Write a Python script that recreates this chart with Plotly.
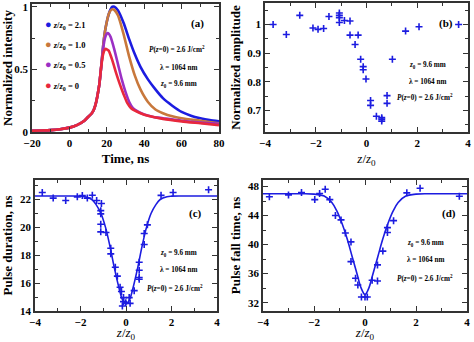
import plotly.graph_objects as go

W, H = 474, 342
FONT = "Liberation Serif"
BLUE = "#1c1ce0"

# ---------- panel (a) data: pulse shapes ----------
t_rise = [-20, -15, -10, -5, 0, 4, 8, 10, 12, 13, 14, 15, 16, 17]
i_rise = [0.010, 0.012, 0.015, 0.022, 0.035, 0.055, 0.09, 0.12, 0.15, 0.175, 0.22, 0.29, 0.38, 0.52]

t_21 = [18, 19, 20, 21, 22, 23, 24, 26, 29, 32, 35, 38, 42, 46, 50, 55, 60, 65, 70, 75, 80]
i_21 = [0.68, 0.80, 0.88, 0.94, 0.98, 1.0, 1.0, 0.97, 0.87, 0.74, 0.62, 0.52, 0.42, 0.34, 0.27, 0.21, 0.16, 0.13, 0.11, 0.095, 0.085]

t_10 = [18, 19, 20, 21, 22, 23, 24, 26, 29, 32, 35, 38, 42, 46, 50, 55, 60, 70, 80]
i_10 = [0.68, 0.80, 0.88, 0.94, 0.97, 0.98, 0.975, 0.93, 0.78, 0.60, 0.45, 0.34, 0.24, 0.18, 0.15, 0.125, 0.11, 0.09, 0.07]

t_05 = [18, 19, 20, 20.5, 21, 22, 24, 26, 28, 30, 32, 34, 37, 40, 45, 50, 60, 70, 80]
i_05 = [0.66, 0.75, 0.785, 0.79, 0.785, 0.76, 0.66, 0.54, 0.42, 0.32, 0.24, 0.19, 0.16, 0.14, 0.12, 0.11, 0.09, 0.075, 0.065]

t_00 = [18, 19, 19.5, 20, 21, 23, 25, 27, 29, 31, 33, 35, 38, 42, 50, 60, 70, 80]
i_00 = [0.62, 0.66, 0.665, 0.66, 0.65, 0.57, 0.47, 0.38, 0.30, 0.23, 0.19, 0.17, 0.15, 0.13, 0.105, 0.085, 0.07, 0.055]

legend_labels = ["2.1", "1.0", "0.5", "0"]
legend_colors = ["#1c1ce0", "#c8783c", "#9b30c4", "#e8283c"]

# ---------- panel (b) data ----------
zb = [-3.68, -3.16, -2.63, -2.11, -1.91, -1.69, -1.48, -1.07, -1.07, -1.07, -1.07, -0.87, -0.65, -0.65,
      -0.45, -0.33, -0.23, -0.13, -0.13, -0.02, 0.16, 0.16, 0.39, 0.6, 0.6, 0.6, 0.81, 0.81, 1.02, 1.54, 2.07, 3.63]
ab = [1.0, 0.965, 1.032, 0.988, 0.983, 0.986, 1.028, 1.04, 1.032, 1.024, 1.007, 1.014, 1.012, 0.963,
      0.93, 0.963, 0.879, 0.853, 0.842, 0.81, 0.735, 0.718, 0.68, 0.675, 0.67, 0.663, 0.752, 0.725, 0.879, 0.977, 0.992, 1.0]

# ---------- panel (c) data ----------
zc = [-3.68, -3.2, -2.65, -2.14, -1.92, -1.7, -1.48, -1.29, -1.08, -1.11, -1.11, -1.11, -1.11, -0.88,
      -0.67, -0.67, -0.47, -0.38, -0.26, -0.2, -0.11, -0.11, -0.16, -0.01, 0.18, 0.14, 0.36,
      0.58, 0.58, 0.58, 0.58, 0.8, 0.8, 0.94, 1.54, 2.07, 3.63]
dc = [22.5, 22.1, 21.93, 22.19, 22.29, 22.1, 22.31, 21.93, 21.71, 21.2, 20.97, 20.22, 19.68, 19.63,
      18.5, 18.1, 17.14, 16.5, 15.7, 15.4, 14.96, 14.67, 14.36, 14.6, 14.55, 14.96, 15.46,
      17.5, 16.92, 16.4, 16.28, 18.77, 19.56, 20.18, 22.3, 22.5, 22.7]
zc_fit = [-4, -2.5, -2.0, -1.8, -1.5, -1.3, -1.1, -0.9, -0.7, -0.5, -0.3, -0.15, 0,
          0.15, 0.3, 0.5, 0.7, 0.9, 1.1, 1.3, 1.5, 1.8, 2.0, 2.5, 4]
dc_fit = [22.25, 22.25, 22.24, 22.2, 22.0, 21.6, 21.0, 20.0, 18.6, 17.0, 15.6, 14.8, 14.5,
          14.8, 15.6, 17.0, 18.6, 20.0, 21.0, 21.6, 22.0, 22.2, 22.24, 22.25, 22.25]

# ---------- panel (d) data ----------
zd = [-3.75, -3.0, -2.49, -1.97, -1.78, -1.56, -1.38, -1.16, -0.94, -0.77, -0.55, -0.55, -0.37, -0.28,
      -0.14, 0.0, 0.09, 0.28, 0.49, 0.49, 0.7, 0.88, 0.88, 1.12, 1.64, 2.16, 3.7]
fd = [46.6, 46.85, 47.17, 46.2, 47.03, 47.63, 46.2, 44.0, 43.4, 41.6, 40.37, 37.66, 35.36, 34.44,
      32.78, 32.78, 32.78, 35.08, 34.99, 37.2, 39.1, 41.66, 42.34, 43.3, 47.13, 47.77, 46.67]
zd_fit = [-4, -2.5, -2.0, -1.6, -1.3, -1.1, -0.9, -0.7, -0.5, -0.3, -0.15, 0,
          0.15, 0.3, 0.5, 0.7, 0.9, 1.1, 1.3, 1.6, 2.0, 2.5, 4]
fd_fit = [47.0, 47.0, 46.95, 46.7, 45.8, 44.6, 42.9, 40.8, 38.3, 35.8, 34.0, 33.1,
          34.0, 35.8, 38.3, 40.8, 42.9, 44.6, 45.8, 46.7, 46.95, 47.0, 47.0]

fig = go.Figure()

def px_x(p):
    return p / W

def px_y(p):
    return 1 - p / H

# (a) curves, drawn back to front: blue, orange, purple, red on top
curves = [(t_21, i_21, legend_colors[0]), (t_10, i_10, legend_colors[1]),
          (t_05, i_05, legend_colors[2]), (t_00, i_00, legend_colors[3])]
for tt, ii, col in curves:
    fig.add_trace(go.Scatter(x=t_rise + tt, y=i_rise + ii, mode="lines",
                             line=dict(color=col, width=2.6, shape="spline", smoothing=0.6),
                             xaxis="x", yaxis="y", showlegend=False))

mk = dict(symbol="cross-thin", size=5, line=dict(color=BLUE, width=1.6), color=BLUE)
fig.add_trace(go.Scatter(x=zb, y=ab, mode="markers", marker=mk, xaxis="x2", yaxis="y2", showlegend=False))
fig.add_trace(go.Scatter(x=zc_fit, y=dc_fit, mode="lines", line=dict(color=BLUE, width=1.6, shape="spline"),
                         xaxis="x3", yaxis="y3", showlegend=False))
fig.add_trace(go.Scatter(x=zc, y=dc, mode="markers", marker=mk, xaxis="x3", yaxis="y3", showlegend=False))
fig.add_trace(go.Scatter(x=zd_fit, y=fd_fit, mode="lines", line=dict(color=BLUE, width=1.6, shape="spline"),
                         xaxis="x4", yaxis="y4", showlegend=False))
fig.add_trace(go.Scatter(x=zd, y=fd, mode="markers", marker=mk, xaxis="x4", yaxis="y4", showlegend=False))

tickfont = dict(family=FONT, size=11, color="black", weight="bold")
titlefont = dict(family=FONT, size=13, color="black", weight="bold")

def ax(domain, rng, dtick, minor_dtick, anchor, title, standoff, tick0=None):
    d = dict(domain=domain, range=rng, dtick=dtick, anchor=anchor,
             ticks="inside", ticklen=5, tickwidth=1.3, tickcolor="#333",
             showline=True, linecolor="#333", linewidth=1.5, mirror="allticks",
             showgrid=False, zeroline=False, tickfont=tickfont,
             minor=dict(dtick=minor_dtick, ticks="inside", ticklen=3, tickwidth=1.2, tickcolor="#333", showgrid=False),
             title=dict(text=title, font=titlefont, standoff=standoff),
             automargin=False, fixedrange=True)
    if tick0 is not None:
        d["tick0"] = tick0
    return d

zt = "<i>z</i>/<i>z</i><sub>0</sub>"
ztf = dict(family=FONT, size=13, color="black")

fig.update_layout(
    width=W, height=H, margin=dict(l=0, r=0, t=0, b=0),
    paper_bgcolor="white", plot_bgcolor="white",
    xaxis=ax([px_x(32), px_x(219)], [-20, 80], 20, 10, "y", "Time, ns", 6),
    yaxis=ax([px_y(132), px_y(4)], [0, 1.022], 0.5, 0.25, "x", "Normalized intensity", 4),
    xaxis2=ax([px_x(265), px_x(468)], [-4, 4], 2, 1, "y2", zt, 6),
    yaxis2=ax([px_y(132), px_y(3)], [0.625, 1.075], 0.1, 0.05, "x2", "Normalized amplitude", 4),
    xaxis3=ax([px_x(35), px_x(217)], [-4, 4], 2, 1, "y3", zt, 4),
    yaxis3=ax([px_y(311), px_y(180)], [14, 23.4], 2, 1, "x3", "Pulse duration, ns", 4),
    xaxis4=ax([px_x(263), px_x(467)], [-4, 4], 2, 1, "y4", zt, 4),
    yaxis4=ax([px_y(311), px_y(180)], [30.85, 48.9], 4, 2, "x4", "Pulse fall time, ns", 4),
)
for a in ["xaxis2", "xaxis3", "xaxis4"]:
    fig.layout[a].title.font = ztf

anns = []
def note(x, y, text, size=7.2, xanchor="center"):
    anns.append(dict(x=px_x(x), y=px_y(y), xref="paper", yref="paper", text=text, showarrow=False,
                     xanchor=xanchor, yanchor="middle",
                     font=dict(family=FONT, size=size, color="black", weight="bold")))

P = "<i>P</i>(<i>z</i>=0) = 2.6 J/cm<sup>2</sup>"
L = "λ = 1064 nm"
Z = "<i>z</i><sub>0</sub> = 9.6 mm"

# legend of panel (a)
for k, (lab, col) in enumerate(zip(legend_labels, legend_colors)):
    note(43, 24 + k * 20.5,
         f'<span style="color:{col};font-size:11px">●</span> <i>z</i>/<i>z</i><sub>0</sub> = {lab}',
         size=8.5, xanchor="left")

note(197, 23, "(a)", size=11)
note(177, 50, P)
note(178, 68, L)
note(178, 85, Z)

note(446, 23, "(b)", size=11)
note(427, 66, Z)
note(427, 82, L)
note(425, 98, P)

note(195, 213, "(c)", size=11)
note(178, 253, Z)
note(178, 270, L)
note(175, 288, P)

note(449, 213, "(d)", size=11)
note(425, 243, Z)
note(425, 260, L)
note(425, 278, P)

fig.update_layout(annotations=anns)
fig.write_html("out.html")
